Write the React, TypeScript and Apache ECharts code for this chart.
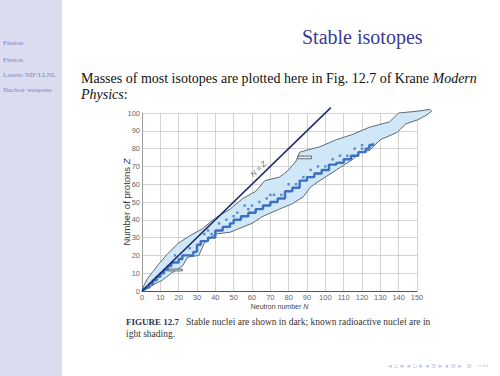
import React, { useEffect, useRef } from "react";
import * as echarts from "echarts";

// Known (radioactive) nuclei band: upper (proton-rich) edge, then lower (neutron-rich) edge back to origin
const BAND_UPPER: [number, number][] = [
  [0, 0], [1, 3], [3, 7], [6, 11], [9, 15], [14, 21], [20, 27], [26, 31], [33, 35], [40, 41],
  [48, 46], [55, 52], [62, 56], [67, 62], [75, 64], [80, 68], [84, 73], [86, 78], [93, 80], [97, 81],
  [106, 85], [115, 88], [124, 92], [135, 95], [140, 100], [150, 101], [157, 102],
];
const BAND_LOWER: [number, number][] = [
  [158, 101], [155, 98.7], [150, 96], [144, 94], [139, 89], [130, 85], [124, 79], [119, 78],
  [115, 74], [106, 68], [97, 62], [92, 58.5], [88, 53], [82, 49], [75, 46], [66, 42], [60, 38],
  [48, 33], [40, 32], [34, 27], [31, 20], [25, 19], [22, 14], [16, 10], [11, 6], [7, 4], [4, 2], [0, 0],
];
// Isolated outlined bars [N from, N to, Z from, Z to]
const BARS: number[][] = [
  [14, 22, 11.3, 12.3],
  [85, 92.5, 74.3, 75.8],
];
// Stable nuclei (dark) staircase
const STABLE: [number, number][] = [
  [0, 1], [2, 2], [4, 4], [6, 6], [8, 8], [10, 10], [12, 12], [14, 14], [16, 16], [20, 18],
  [22, 20], [28, 22], [30, 26], [32, 28], [36, 30], [40, 34], [44, 36], [48, 38], [50, 40],
  [54, 42], [58, 44], [62, 46], [66, 48], [70, 50], [74, 52], [78, 56], [82, 58], [86, 62],
  [90, 64], [94, 66], [98, 68], [102, 71], [106, 72], [110, 74], [114, 76], [118, 78],
  [122, 80], [124, 82], [126, 83],
];
const STABLE_DOTS: [number, number][] = [
  [18, 20], [26, 24], [34, 32], [38, 32], [42, 38], [46, 40], [52, 44], [56, 48], [60, 48],
  [64, 50], [68, 52], [72, 54], [76, 54], [80, 60], [84, 60], [88, 64], [92, 68], [96, 66],
  [100, 70], [104, 74], [108, 72], [112, 76], [116, 80], [120, 80], [50, 42], [46, 36],
  [36, 34], [58, 46], [70, 54], [96, 70], [108, 76], [120, 82],
];
const NZ_LINE: [number, number][] = [[0, 0], [103, 103]];
const NZ_LABEL_AT: [number, number][] = [[63.5, 68.5]];

const X_MIN = 0, X_MAX = 150, X_STEP = 10;
const Y_MIN = 0, Y_MAX = 100, Y_STEP = 10;

const SIDEBAR_ITEMS = ["Fission", "Fission", "Lasers: NIF/LLNL", "Nuclear weapons"];
const SIDEBAR_Y = [43, 60, 75, 90];

export default function App() {
  const ref = useRef<HTMLDivElement>(null);
  useEffect(() => {
    if (!ref.current) return;
    const chart = echarts.init(ref.current, undefined, { renderer: "svg" });
    const serif = "'Liberation Serif', 'Times New Roman', serif";
    const sans = "'Liberation Sans', Arial, sans-serif";
    chart.setOption({
      animation: false,
      backgroundColor: "#ffffff",
      grid: { left: 142, right: 83, top: 113, bottom: 85, containLabel: false },
      xAxis: {
        type: "value",
        min: X_MIN,
        max: X_MAX,
        interval: X_STEP,
        name: "Neutron number {i|N}",
        nameLocation: "middle",
        nameGap: 12,
        nameMoveOverlap: false,
        nameTextStyle: {
          fontFamily: sans, fontSize: 7, color: "#444",
          rich: { i: { fontStyle: "italic", fontFamily: sans, fontSize: 7, color: "#444" } },
        },
        axisLine: { show: true, lineStyle: { color: "#555", width: 1 } },
        axisTick: { show: false },
        axisLabel: { fontFamily: sans, fontSize: 7.5, color: "#666", margin: 2 },
        splitLine: { show: true, lineStyle: { color: "#c8c8c8", width: 0.8 } },
      },
      yAxis: {
        type: "value",
        min: Y_MIN,
        max: Y_MAX,
        interval: Y_STEP,
        name: "Number of protons {i|Z}",
        nameLocation: "middle",
        nameGap: 11,
        nameMoveOverlap: false,
        nameTextStyle: {
          fontFamily: sans, fontSize: 9.5, color: "#333",
          rich: { i: { fontStyle: "italic", fontFamily: sans, fontSize: 9.5, color: "#333" } },
        },
        axisLine: { show: true, lineStyle: { color: "#999", width: 1 } },
        axisTick: { show: false },
        axisLabel: { fontFamily: sans, fontSize: 7.5, color: "#666", margin: 2 },
        splitLine: { show: true, lineStyle: { color: "#c8c8c8", width: 0.8 } },
      },
      series: [
        {
          type: "custom",
          clip: false,
          z: 2,
          data: [[0, 0]],
          renderItem: (_p: any, api: any) => {
            const pts = BAND_UPPER.concat(BAND_LOWER).map((p) => api.coord(p));
            return {
              type: "polygon",
              shape: { points: pts },
              style: { fill: "#cfe7f7", stroke: "#505a66", lineWidth: 0.9 },
            };
          },
        },
        {
          type: "custom",
          clip: false,
          z: 3,
          encode: { x: [0, 1], y: [2, 3] },
          data: BARS,
          renderItem: (_p: any, api: any) => {
            const a = api.coord([api.value(0), api.value(3)]);
            const b = api.coord([api.value(1), api.value(2)]);
            return {
              type: "rect",
              shape: { x: a[0], y: a[1], width: b[0] - a[0], height: b[1] - a[1] },
              style: { fill: "#e6f2fa", stroke: "#505a66", lineWidth: 0.9 },
            };
          },
        },
        {
          type: "line",
          z: 4,
          data: STABLE,
          step: "end",
          symbol: "none",
          lineStyle: { color: "#3d6fc2", width: 2.4 },
        },
        {
          type: "scatter",
          z: 4,
          data: STABLE_DOTS,
          symbol: "rect",
          symbolSize: 2.4,
          itemStyle: { color: "#3d6fc2" },
        },
        {
          type: "line",
          z: 5,
          clip: false,
          data: NZ_LINE,
          symbol: "none",
          lineStyle: { color: "#1e2b6c", width: 1.6 },
        },
        {
          type: "scatter",
          z: 6,
          data: NZ_LABEL_AT,
          symbolSize: 0,
          label: {
            show: true,
            position: "inside",
            formatter: "N = Z",
            rotate: 44,
            fontFamily: sans,
            fontStyle: "italic",
            fontSize: 7.5,
            color: "#333",
          },
        },
      ],
      graphic: [
        { type: "rect", left: 0, top: 0, shape: { width: 62, height: 376 }, style: { fill: "#dcdcf1" }, z: 0 },
        ...SIDEBAR_ITEMS.map((t, i) => ({
          type: "text",
          x: 3,
          y: SIDEBAR_Y[i],
          style: { text: t, font: `7px ${serif}`, fill: "#8282c0", textVerticalAlign: "middle" },
        })),
        {
          type: "text",
          x: 302,
          y: 37,
          style: { text: "Stable isotopes", font: `20px ${serif}`, fill: "#3a3a98", textVerticalAlign: "middle" },
        },
        {
          type: "text",
          x: 81,
          y: 78,
          style: {
            text: "Masses of most isotopes are plotted here in Fig. 12.7 of Krane {i|Modern}",
            font: `14px ${serif}`,
            fill: "#111",
            textVerticalAlign: "middle",
            rich: { i: { fontStyle: "italic", fontFamily: serif, fontSize: 14, fill: "#111" } },
          },
        },
        {
          type: "text",
          x: 81,
          y: 94,
          style: {
            text: "{i|Physics}:",
            font: `14px ${serif}`,
            fill: "#111",
            textVerticalAlign: "middle",
            rich: { i: { fontStyle: "italic", fontFamily: serif, fontSize: 14, fill: "#111" } },
          },
        },
        {
          type: "text",
          x: 126,
          y: 322,
          style: { text: "FIGURE 12.7", font: `bold 9px ${serif}`, fill: "#2c3550", textVerticalAlign: "middle" },
        },
        {
          type: "text",
          x: 186,
          y: 322,
          style: {
            text: "Stable nuclei are shown in dark; known radioactive nuclei are in",
            font: `9.5px ${serif}`,
            fill: "#333",
            textVerticalAlign: "middle",
          },
        },
        {
          type: "text",
          x: 126,
          y: 334,
          style: { text: "ight shading.", font: `9.5px ${serif}`, fill: "#333", textVerticalAlign: "middle" },
        },
        {
          type: "text",
          x: 388,
          y: 366,
          style: {
            text: "◂ ▫ ▸ ◂ ▫ ▸ ◂ ≡ ▸ ◂ ≡ ▸  ≡  ∽∾",
            font: `7px 'DejaVu Sans', sans-serif`,
            fill: "#c3c3de",
            textVerticalAlign: "middle",
          },
        },
      ],
    });
    return () => chart.dispose();
  }, []);
  return (
    <div
      ref={ref}
      style={{ position: "fixed", left: 0, top: 0, width: 500, height: 376 }}
    />
  );
}
